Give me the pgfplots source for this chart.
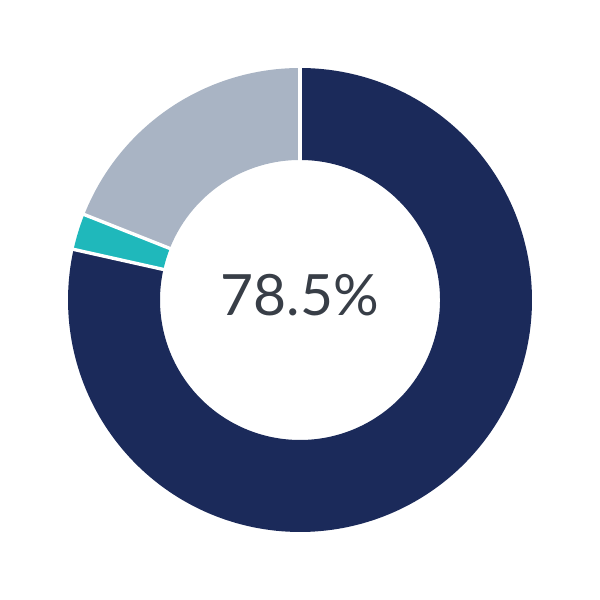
\documentclass[border=0pt]{standalone}
\usepackage{pgfplots}
\usepackage{pgfplotstable}
\usepackage{fontspec}
\setmainfont{Lato}
\pgfplotsset{compat=1.18}

\definecolor{navy}{HTML}{1B2A5A}
\definecolor{teal}{HTML}{1FB8BB}
\definecolor{slate}{HTML}{A9B4C4}
\definecolor{txt}{HTML}{383E47}

% share of each slice (percent), clockwise from 12 o'clock
\pgfplotstableread{
share
78.5
2.5
19.0
}\donutdata

\begin{document}
\begin{tikzpicture}
\pgfplotstablegetelem{0}{share}\of\donutdata \let\sa\pgfplotsretval
\pgfplotstablegetelem{1}{share}\of\donutdata \let\sb\pgfplotsretval
\pgfplotstablegetelem{2}{share}\of\donutdata \let\sc\pgfplotsretval
\pgfmathsetmacro{\aA}{90}
\pgfmathsetmacro{\aB}{90-3.6*\sa}
\pgfmathsetmacro{\aC}{\aB-3.6*\sb}
\pgfmathsetmacro{\aD}{\aC-3.6*\sc}
\begin{axis}[
    hide axis,
    scale only axis,
    width=10cm, height=10cm,
    xmin=-300, xmax=300,
    ymin=-300, ymax=300,
    clip=false,
]
  % ring slices (radius 186, width 92 -> 140..232)
  \addplot[navy, line width=1.533cm, domain=\aB:\aA, samples=200, line cap=butt]
    ({186*cos(x)},{186*sin(x)});
  \addplot[teal, line width=1.533cm, domain=\aC:\aB, samples=20, line cap=butt]
    ({186*cos(x)},{186*sin(x)});
  \addplot[slate, line width=1.533cm, domain=\aD:\aC, samples=80, line cap=butt]
    ({186*cos(x)},{186*sin(x)});
  % white separators
  \addplot[white, line width=1.6pt, domain=135:237, samples=2] ({x*cos(\aA)},{x*sin(\aA)});
  \addplot[white, line width=1.6pt, domain=135:237, samples=2] ({x*cos(\aB)},{x*sin(\aB)});
  \addplot[white, line width=1.6pt, domain=135:237, samples=2] ({x*cos(\aC)},{x*sin(\aC)});
  \node[text=txt, font=\fontsize{27}{32}\selectfont] at (axis cs:0,5) {78.5\%};
  \coordinate (ll) at (axis cs:-300,-300);
  \coordinate (ur) at (axis cs:300,300);
\end{axis}
\pgfresetboundingbox
\useasboundingbox (ll) rectangle (ur);
\end{tikzpicture}
\end{document}
